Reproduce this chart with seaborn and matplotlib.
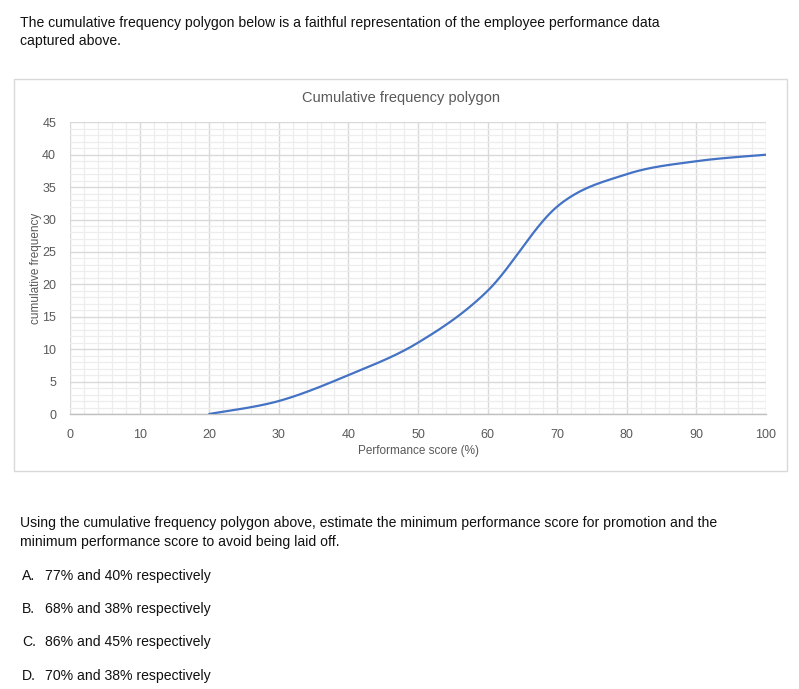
import numpy as np
import pandas as pd
import matplotlib
matplotlib.use("Agg")
import matplotlib.pyplot as plt
from matplotlib import font_manager
from matplotlib.patches import Rectangle
import seaborn as sns

# ---- data ----
scores = [20, 30, 40, 50, 60, 70, 80, 90, 100]
cum_freq = [0, 2, 6, 11, 19, 32, 37, 39, 40]
x_ticks = [0, 10, 20, 30, 40, 50, 60, 70, 80, 90, 100]
y_ticks = [0, 5, 10, 15, 20, 25, 30, 35, 40, 45]

intro_text = ("The cumulative frequency polygon below is a faithful representation of the employee performance data\n"
              "captured above.")
chart_title = "Cumulative frequency polygon"
x_label = "Performance score (%)"
y_label = "cumulative frequency"
question = ("Using the cumulative frequency polygon above, estimate the minimum performance score for promotion and the\n"
            "minimum performance score to avoid being laid off.")
option_letters = ["A.", "B.", "C.", "D."]
option_texts = ["77% and 40% respectively", "68% and 38% respectively",
                "86% and 45% respectively", "70% and 38% respectively"]

sns.set_theme(style="white")
names = {f.name for f in font_manager.fontManager.ttflist}
body_font = "Liberation Sans" if "Liberation Sans" in names else "DejaVu Sans"
chart_font = "Liberation Sans Narrow" if "Liberation Sans Narrow" in names else body_font
plt.rcParams["font.family"] = [body_font, "DejaVu Sans"]

W, H = 799, 689
fig = plt.figure(figsize=(W / 100, H / 100), dpi=100)

def fx(px):
    return px / W

def fy(py):
    return 1 - py / H

# chart area border
fig.patches.append(Rectangle((fx(14), fy(471)), fx(787) - fx(14), fy(79) - fy(471),
                             transform=fig.transFigure, fill=False,
                             edgecolor="#d9d9d9", linewidth=1.0))

ax = fig.add_axes([fx(70), fy(414), fx(766) - fx(70), fy(122.3) - fy(414)])
ax.set_xlim(0, 100)
ax.set_ylim(0, 45)

# smooth (Catmull-Rom style bezier) rendering of the data polygon
def smooth(xs, ys, n=40):
    P = np.column_stack([xs, ys]).astype(float)
    out = []
    for i in range(len(P) - 1):
        p0 = P[i - 1] if i > 0 else P[i]
        p1 = P[i]
        p2 = P[i + 1]
        p3 = P[i + 2] if i + 2 < len(P) else P[i + 1]
        c1 = p1 + (p2 - p0) / 6.0
        c2 = p2 - (p3 - p1) / 6.0
        t = np.linspace(0, 1, n, endpoint=(i == len(P) - 2))[:, None]
        seg = ((1 - t) ** 3) * p1 + 3 * ((1 - t) ** 2) * t * c1 + 3 * (1 - t) * t ** 2 * c2 + t ** 3 * p2
        out.append(seg)
    return np.vstack(out)

curve = smooth(scores, cum_freq)
df = pd.DataFrame({"score": curve[:, 0], "cf": curve[:, 1]})
sns.lineplot(data=df, x="score", y="cf", sort=False, estimator=None,
             color="#4472C4", linewidth=1.6, ax=ax, zorder=5)

# grid
ax.set_xticks(x_ticks)
ax.set_yticks(y_ticks)
ax.set_xticks(np.arange(0, 101, 2), minor=True)
ax.set_yticks(np.arange(0, 46, 1), minor=True)
ax.grid(True, which="major", color="#d9d9d9", linewidth=1.0)
ax.grid(True, which="minor", color="#ededed", linewidth=0.9)
ax.set_axisbelow(True)
for s in ["top", "right", "left"]:
    ax.spines[s].set_visible(False)
ax.spines["bottom"].set_color("#bfbfbf")
ax.spines["bottom"].set_linewidth(1.0)
ax.tick_params(which="both", length=0)
ax.tick_params(axis="x", pad=11, labelsize=9, labelcolor="#595959")
ax.tick_params(axis="y", pad=10, labelsize=9, labelcolor="#595959")
for lab in ax.get_xticklabels() + ax.get_yticklabels():
    lab.set_family(chart_font)
ax.set_xlabel(x_label, fontsize=8.5, color="#595959", family=chart_font, labelpad=3)
ax.set_ylabel(y_label, fontsize=8.5, color="#595959", family=chart_font)
ax.yaxis.set_label_coords(-0.040, 0.5)

fig.text(fx(400.5), fy(98), chart_title, ha="center", va="center",
         fontsize=10.5, color="#595959", family=chart_font)

# surrounding text
fs = 10.1
fig.text(fx(20), fy(15.5), intro_text, ha="left", va="top", fontsize=fs,
         color="#111111", linespacing=1.42)
fig.text(fx(20), fy(516), question, ha="left", va="top", fontsize=fs,
         color="#111111", linespacing=1.42)
opt_y = [576, 609, 642, 676]
for letter, txt, yy in zip(option_letters, option_texts, opt_y):
    fig.text(fx(22), fy(yy), letter, ha="left", va="center", fontsize=fs, color="#111111")
    fig.text(fx(45), fy(yy), txt, ha="left", va="center", fontsize=fs, color="#111111")

fig.savefig("out.png", dpi=100, facecolor="white")
